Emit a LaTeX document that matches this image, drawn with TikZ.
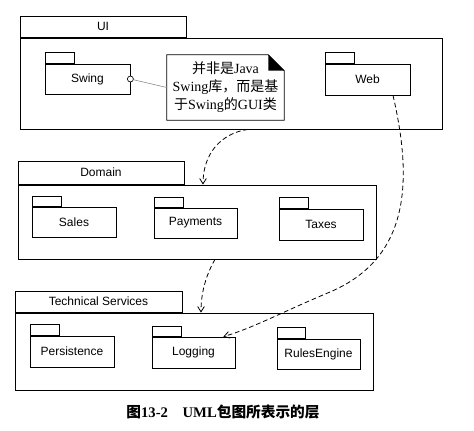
\documentclass[tikz,border=0pt]{standalone}
\usepackage{fontspec}
\setmainfont{Liberation Sans}
\newfontfamily\cjk{Noto Sans CJK SC}
\newfontfamily\seriffont{Liberation Serif}
\usetikzlibrary{arrows.meta}

\begin{document}
\begin{tikzpicture}[x=0.75pt,y=-0.75pt,
  every node/.style={font=\fontsize{9}{11}\selectfont},
  box/.style 2 args={minimum width=#1*0.75pt, minimum height=#2*0.75pt},
  pkg/.style={draw, rectangle, inner sep=0pt, line width=0.6pt},
  tab/.style={pkg, anchor=south west},
  dep/.style={line width=0.6pt, dash pattern=on 3.5pt off 2.2pt,
    -{Straight Barb[length=4pt,width=5pt]}},
]
  \useasboundingbox (0,0) rectangle (474,431);

  % UI 层
  \node[pkg, box={422}{91}] (ui) at (231,83.5) {};
  \node[tab, box={166}{21}] (uiTab) at (ui.north west) {UI};
  \node[pkg, box={85}{30}] (swing) at (87.5,79) {Swing};
  \node[tab, box={29}{11}] (swingTab) at (swing.north west) {};
  \node[pkg, box={85}{31}] (web) at (367.5,79.5) {Web};
  \node[tab, box={29}{11}] (webTab) at (web.north west) {};

  % 注释
  \node[box={117}{65}, align=center, inner sep=0pt,
    font=\seriffont\fontsize{10.5}{13.5}\selectfont] (note) at (225.5,87.5)
    {{\cjk 并非是}Java\\Swing{\cjk 库，而是基}\\{\cjk 于}Swing{\cjk 的}GUI{\cjk 类}};
  \draw[line width=0.6pt] (note.north west) -- ([xshift=-12pt]note.north east)
    -- ([yshift=-12pt]note.north east) -- (note.south east)
    -- (note.south west) -- cycle;
  \fill ([xshift=-12pt]note.north east) -- ([xshift=-12pt,yshift=-12pt]note.north east)
    -- ([yshift=-12pt]note.north east) -- cycle;
  \node[draw, circle, inner sep=0pt, minimum size=4.5pt, fill=white,
    line width=0.5pt] (swingPort) at (swing.east) {};
  \draw[gray, line width=0.4pt] (swingPort) -- (note.west);

  % Domain 层
  \node[pkg, box={358}{74}] (domain) at (197,222) {};
  \node[tab, box={166}{23}] (domainTab) at (domain.north west) {Domain};
  \node[pkg, box={84}{30}] (sales) at (74,222) {Sales};
  \node[tab, box={29}{10}] (salesTab) at (sales.north west) {};
  \node[pkg, box={83}{30}] (payments) at (195.5,223) {Payments};
  \node[tab, box={29}{10}] (paymentsTab) at (payments.north west) {};
  \node[pkg, box={84}{31}] (taxes) at (321,224.5) {Taxes};
  \node[tab, box={29}{11}] (taxesTab) at (taxes.north west) {};

  % Technical Services 层
  \node[pkg, box={358}{77}] (tech) at (194,351.5) {};
  \node[tab, box={167}{21}] (techTab) at (tech.north west) {Technical Services};
  \node[pkg, box={84}{31}] (persistence) at (72,351.5) {Persistence};
  \node[tab, box={29}{11}] (persistenceTab) at (persistence.north west) {};
  \node[pkg, box={83}{31}] (logging) at (193.5,352.5) {Logging};
  \node[tab, box={29}{10}] (loggingTab) at (logging.north west) {};
  \node[pkg, box={83}{30}] (rules) at (318.5,354) {RulesEngine};
  \node[tab, box={28}{11}] (rulesTab) at (rules.north west) {};

  % 依赖
  \draw[dep] ([xshift=12.75pt]ui.south) .. controls +(-28,4) and +(0,-30)
    .. ([xshift=4.5pt]domain.north);
  \draw[dep] ([xshift=13.5pt]domain.south) .. controls +(-8,14) and +(0,-22)
    .. ([xshift=5.25pt]tech.north);
  \draw[dep] ([xshift=19.125pt]web.south) .. controls (415,190) and (405,260)
    .. (330,292) .. controls (280,313) and (253,328)
    .. ([xshift=-9pt]logging.north east);

  % 图题
  \node[font=\seriffont\bfseries\fontsize{11}{13}\selectfont] (caption) at (223,412)
    {{\cjk 图}13-2\quad UML{\cjk 包图所表示的层}};
\end{tikzpicture}
\end{document}
